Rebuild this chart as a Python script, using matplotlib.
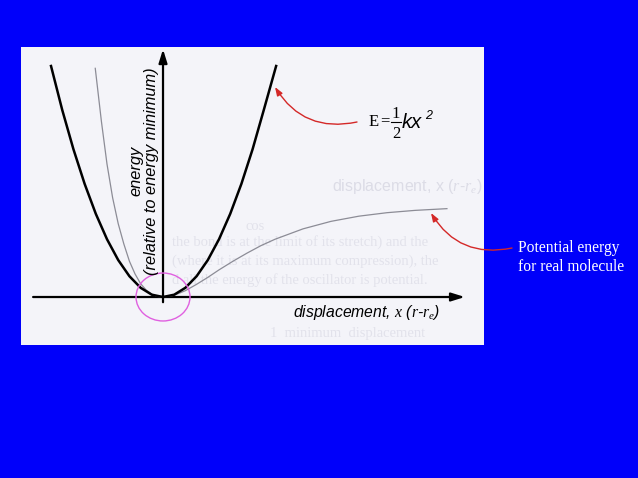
"""
Harmonic vs. real-molecule potential energy curve, redrawn from a lecture slide.
"""

import matplotlib.pyplot as plt
from matplotlib.patches import Ellipse

plt.rcParams['mathtext.fontset'] = 'custom'
plt.rcParams['mathtext.rm'] = 'Liberation Serif'
plt.rcParams['mathtext.it'] = 'Liberation Serif:italic'

# harmonic well, E = 1/2 k x^2
harmonic_x = [-2.0, -1.8, -1.6, -1.4, -1.2, -1.0, -0.8, -0.6, -0.4, -0.2, 0.0,
              0.2, 0.4, 0.6, 0.8, 1.0, 1.2, 1.4, 1.6, 1.8, 2.02]
harmonic_e = [4.0, 3.24, 2.56, 1.96, 1.44, 1.0, 0.64, 0.36, 0.16, 0.04, 0.0,
              0.04, 0.16, 0.36, 0.64, 1.0, 1.44, 1.96, 2.56, 3.24, 4.0]

# real molecule (Morse-like) curve
morse_x = [-1.21, -1.1, -1.0, -0.9, -0.8, -0.7, -0.6, -0.5, -0.4, -0.3, -0.2, -0.1, 0.0,
           0.2, 0.4, 0.6, 0.8, 1.0, 1.25, 1.5, 1.75, 2.0, 2.5, 3.0, 3.5, 4.0, 4.5, 5.07]
morse_e = [3.96, 3.04, 2.30, 1.72, 1.27, 0.92, 0.62, 0.40, 0.23, 0.12, 0.05, 0.01, 0.0,
           0.03, 0.11, 0.22, 0.34, 0.47, 0.62, 0.76, 0.89, 1.0, 1.18, 1.31, 1.40, 1.46, 1.50, 1.53]

# faint bleed-through text from the scanned page
ghost_lines = [
    (245, 226, "cos"),
    (172, 242, "the bond is at the limit of its stretch) and the"),
    (172, 261, "(where it is at its maximum compression), the"),
    (172, 280, "d all the energy of the oscillator is potential."),
    (270, 333, "1  minimum  displacement"),
]

W, H = 638, 478


def fig_xy(px, py):
    """pixel position (from top-left) -> figure fraction"""
    return (px / W, 1 - py / H)


fig = plt.figure(figsize=(W / 100, H / 100), dpi=100, facecolor='#0000fa')

ax = fig.add_axes([21 / W, 1 - 345 / H, 463 / W, 298 / H])
ax.set_facecolor('#f4f4f9')
ax.set_xlim(-2.536, 5.732)
ax.set_ylim(-0.831, 4.329)
ax.set_xticks([])
ax.set_yticks([])
for s in ax.spines.values():
    s.set_visible(False)

for gx, gy, txt in ghost_lines:
    ax.text(*fig_xy(gx, gy), txt, transform=fig.transFigure, family='Liberation Serif',
            fontsize=10.5, color='#e2e2eb', ha='left', va='center', clip_on=True, zorder=0)
ax.text(*fig_xy(332, 186), r'displacement, x ($r$-$r_e$)', transform=fig.transFigure,
        family='Liberation Sans', fontsize=11.5, color='#dcdce6', ha='left', va='center',
        clip_on=True, zorder=0)

# axes with arrow heads
head = '-|>,head_length=0.8,head_width=0.25'
ax.annotate('', xy=(5.39, 0), xytext=(-2.32, 0),
            arrowprops=dict(arrowstyle=head, color='k', lw=1.6, shrinkA=0, shrinkB=0,
                            mutation_scale=10))
ax.annotate('', xy=(0, 4.29), xytext=(0, -0.09),
            arrowprops=dict(arrowstyle=head, color='k', lw=1.6, shrinkA=0, shrinkB=0,
                            mutation_scale=10))

ax.plot(morse_x, morse_e, color='#8c8c96', lw=0.9, zorder=3)
ax.plot(harmonic_x, harmonic_e, color='k', lw=1.8, zorder=4)

ax.add_patch(Ellipse((0, 0), 0.964, 0.83, fill=False, edgecolor='#e060e0', lw=1.0, zorder=5))

# axis labels
fig.text(*fig_xy(143.5, 171), "energy\n(relative to energy minimum)", rotation=90,
         ha='center', va='center', multialignment='center', family='Liberation Sans',
         style='italic', fontsize=11.8, linespacing=1.05)
fig.text(*fig_xy(293, 313), r'displacement, $x$ ($r$-$r_e$)', ha='left', va='center',
         family='Liberation Sans', style='italic', fontsize=11.3)

# equation E = 1/2 k x^2
fig.text(*fig_xy(369, 122), "E", ha='left', va='center', family='Liberation Serif', fontsize=12)
fig.text(*fig_xy(384.5, 121.5), "=", ha='center', va='center', family='Liberation Serif', fontsize=12)
fig.text(*fig_xy(396, 114.5), "1", ha='center', va='center', family='Liberation Serif', fontsize=12)
fig.text(*fig_xy(396, 134.5), "2", ha='center', va='center', family='Liberation Serif', fontsize=12)
fig.add_artist(plt.Line2D([391 / W, 401 / W], [1 - 122 / H, 1 - 122 / H], color='k', lw=0.8))
fig.text(*fig_xy(402, 122), "kx", ha='left', va='center', family='Liberation Sans',
         style='italic', fontsize=14.5)
fig.text(*fig_xy(425, 116), "2", ha='left', va='center', family='Liberation Sans',
         style='italic', fontsize=9)

# right-hand note
fig.text(*fig_xy(518, 257.5), "Potential energy\nfor real molecule", ha='left', va='center',
         family='Liberation Serif', fontsize=11.2, color='white', linespacing=1.22)

# red pointer arrows
red = dict(arrowstyle='-|>,head_length=0.5,head_width=0.18', color='#d42828', lw=1.0,
           connectionstyle='arc3,rad=-0.35', shrinkA=0, shrinkB=0, mutation_scale=10)
ax.annotate('', xy=fig_xy(275, 87), xycoords='figure fraction',
            xytext=fig_xy(357, 122), textcoords='figure fraction', arrowprops=red)
ax.annotate('', xy=fig_xy(431, 213), xycoords='figure fraction',
            xytext=fig_xy(512, 248), textcoords='figure fraction', arrowprops=red)

fig.savefig('out.png', dpi=100, facecolor=fig.get_facecolor())
